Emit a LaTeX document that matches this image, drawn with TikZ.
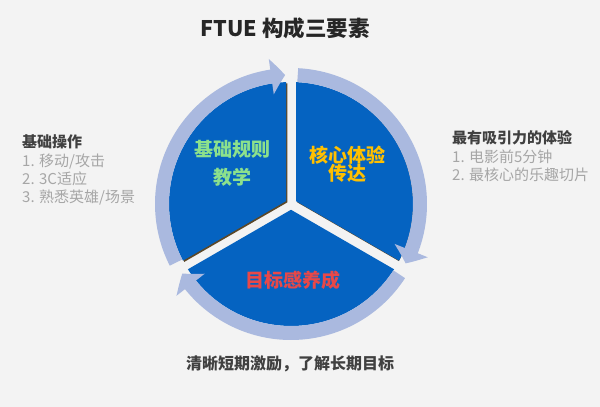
\documentclass[tikz,border=0pt]{standalone}
\usepackage{fontspec}
\setmainfont{Noto Sans CJK SC}
\usetikzlibrary{arrows.meta,bending}
\definecolor{bggray}{RGB}{243,243,243}
\definecolor{pieblue}{RGB}{5,99,193}
\definecolor{ringblue}{RGB}{170,185,223}
\definecolor{shadowbrown}{RGB}{92,72,40}
\definecolor{txtgreen}{RGB}{140,225,140}
\definecolor{txtyellow}{RGB}{255,192,0}
\definecolor{txtred}{RGB}{232,72,72}
\definecolor{titlegray}{RGB}{38,38,38}
\definecolor{headgray}{RGB}{64,64,64}
\definecolor{itemgray}{RGB}{166,166,166}
\tikzstyle{ringarrow} = [line width=14pt,color=ringblue,-{Triangle[length=14pt,width=35pt,bend]}]
\tikzstyle{piecelabel} = [inner sep=0pt,align=center]

\begin{document}
\begin{tikzpicture}[x=1pt,y=1pt]
% Canvas
\fill[bggray] (0,0) rectangle (600,407);
\useasboundingbox (0,0) rectangle (600,407);
\coordinate (C) at (291,203);

% Title
\node[font=\fontsize{21.5}{25}\selectfont\bfseries, text=titlegray] (title) at (285,379) {FTUE 构成三要素};

% Three pieces with shadow in the gaps
\begin{scope}[shift={(C)}]
  \begin{scope}
    \clip (0,0) circle (122pt);
    \fill[shadowbrown, shift={(1.3,-1.3)}] (-5,2.887) -- (92.35:122pt) arc[start angle=92.35, end angle=207.65, radius=122pt] -- cycle;
    \fill[shadowbrown, shift={(1.3,-1.3)}] (5,2.887) -- (-27.65:122pt) arc[start angle=-27.65, end angle=87.65, radius=122pt] -- cycle;
  \end{scope}
  \fill[pieblue] (-5,2.887) -- (92.35:122pt) arc[start angle=92.35, end angle=207.65, radius=122pt] -- cycle;
  \fill[pieblue] (5,2.887) -- (-27.65:122pt) arc[start angle=-27.65, end angle=87.65, radius=122pt] -- cycle;
  \fill[pieblue] (0,-5.774) -- (212.35:122pt) arc[start angle=212.35, end angle=327.65, radius=122pt] -- cycle;
\end{scope}

% Ring arrows (clockwise)
\draw[ringarrow] (C) ++(207:129pt) arc[start angle=207, end angle=92.6, radius=129pt];
\draw[ringarrow] (C) ++(87:129pt) arc[start angle=87, end angle=-27.4, radius=129pt];
\draw[ringarrow] (C) ++(327:129pt) arc[start angle=327, end angle=212.6, radius=129pt];

% Piece labels
\node[piecelabel, font=\fontsize{19}{28}\selectfont\bfseries, text=txtgreen] (rules) at (232,244) {基础规则\\教学};
\node[piecelabel, font=\fontsize{19}{18.5}\selectfont\bfseries, text=txtyellow] (core) at (347.5,243) {核心体验\\传达};
\node[piecelabel, font=\fontsize{19}{22}\selectfont\bfseries, text=txtred] (goal) at (293,127) {目标感养成};

% Side notes
\node[anchor=west, inner sep=0pt, font=\fontsize{15}{18}\selectfont\bfseries, text=headgray] (lefthead) at (22,265) {基础操作};
\node[anchor=west, inner sep=0pt, align=left, font=\fontsize{15}{18}\selectfont, text=itemgray] (leftlist) at (22,227) {1. 移动/攻击\\2. 3C适应\\3. 熟悉英雄/场景};
\node[anchor=west, inner sep=0pt, font=\fontsize{15}{18}\selectfont\bfseries, text=headgray] (righthead) at (452,269) {最有吸引力的体验};
\node[anchor=west, inner sep=0pt, align=left, font=\fontsize{15}{18}\selectfont, text=itemgray] (rightlist) at (452,241) {1. 电影前5分钟\\2. 最核心的乐趣切片};

% Bottom note
\node[font=\fontsize{16}{20}\selectfont\bfseries, text=headgray] (summary) at (290,43.5) {清晰短期激励，了解长期目标};
\end{tikzpicture}
\end{document}
